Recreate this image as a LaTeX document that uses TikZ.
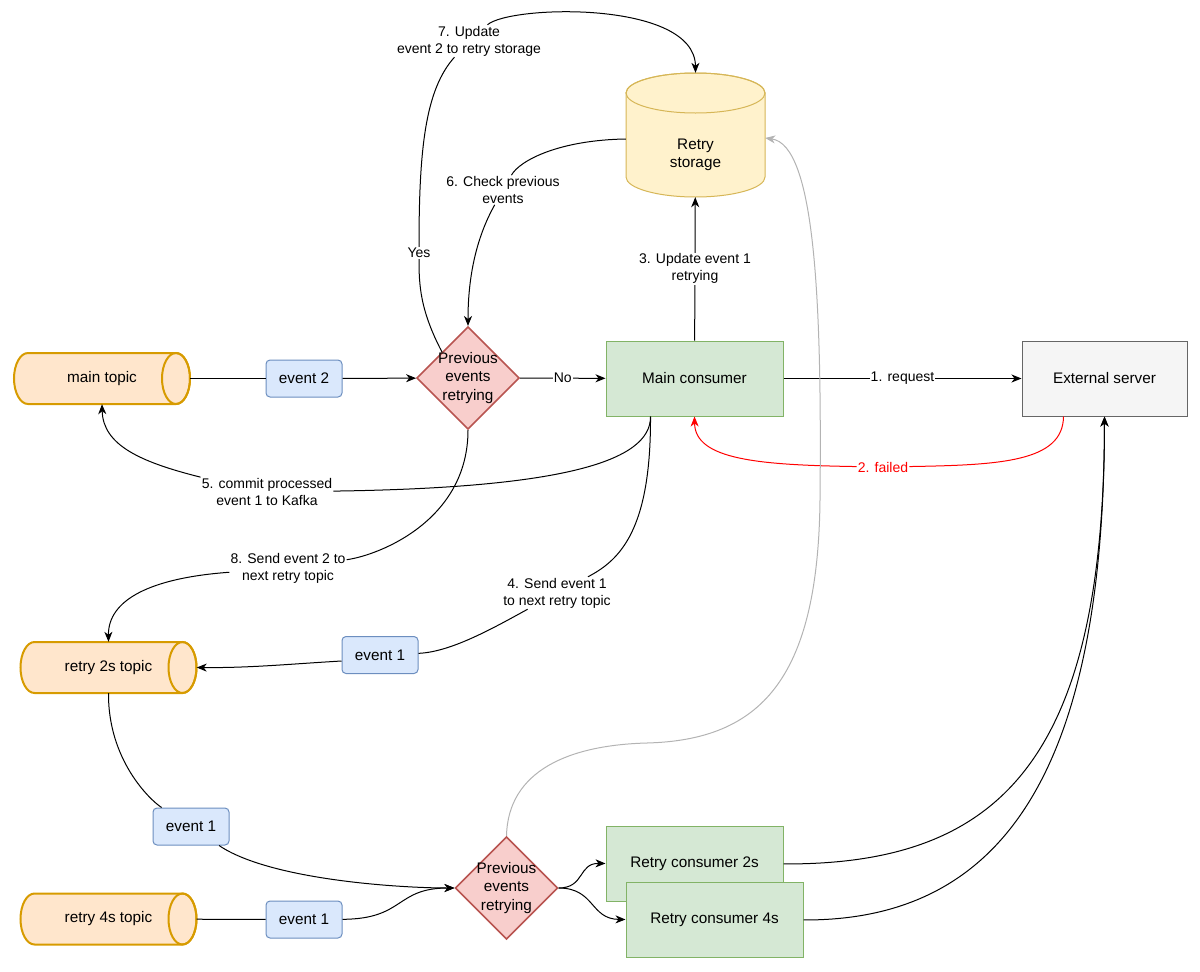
\documentclass[tikz,border=0pt]{standalone}
\usepackage{fontspec}
\setmainfont{Liberation Sans}
\usetikzlibrary{arrows.meta,shapes.geometric}

\definecolor{orfill}{HTML}{FFE6CC}
\definecolor{ordraw}{HTML}{D79B00}
\definecolor{blfill}{HTML}{DAE8FC}
\definecolor{bldraw}{HTML}{6C8EBF}
\definecolor{rdfill}{HTML}{F8CECC}
\definecolor{rddraw}{HTML}{B85450}
\definecolor{grfill}{HTML}{D5E8D4}
\definecolor{grdraw}{HTML}{82B366}
\definecolor{yefill}{HTML}{FFF2CC}
\definecolor{yedraw}{HTML}{D6B656}
\definecolor{gyfill}{HTML}{F5F5F5}
\definecolor{gydraw}{HTML}{666666}
\definecolor{arrgray}{HTML}{B3B3B3}

\begin{document}
\begin{tikzpicture}[x=1pt,y=-1pt,font=\fontsize{14}{17}\selectfont]

		\tikzset{topicpic/.pic = {
			\filldraw[draw=ordraw,fill=orfill,line width=2pt] (-74,-25.5) -- (74,-25.5) arc[start angle=-90,end angle=90,x radius=14,y radius=25.5] -- (-74,25.5) arc[start angle=90,end angle=270,x radius=14,y radius=25.5] -- cycle;
			\draw[draw=ordraw,line width=2pt] (74,0) ellipse[x radius=14,y radius=25.5];
		}}
		\tikzset{storepic/.pic = {
			\filldraw[draw=yedraw,fill=yefill,line width=1pt] (-69.5,-42) -- (-69.5,42) arc[start angle=180,end angle=0,x radius=69.5,y radius=20] -- (69.5,-42) arc[start angle=0,end angle=-180,x radius=69.5,y radius=20] -- cycle;
			\draw[draw=yedraw,line width=1pt] (0,-42) ellipse[x radius=69.5,y radius=20];
		}}
		\tikzset{big/.style = {font=\fontsize{15.3}{18.4}\selectfont}}
		\tikzset{topic/.style = {big,minimum width=176,minimum height=51,inner sep=0pt}}
		\tikzset{msg/.style = {big,draw=bldraw,fill=blfill,line width=1pt,rounded corners=4pt,minimum width=76,minimum height=37}}
		\tikzset{check/.style = {big,shape=diamond,draw=rddraw,fill=rdfill,line width=1.5pt,inner sep=-2pt,minimum width=102,minimum height=100,align=center}}
		\tikzset{cons/.style = {big,draw=grdraw,fill=grfill,line width=1pt,minimum width=177,minimum height=75}}
		\tikzset{server/.style = {big,draw=gydraw,fill=gyfill,line width=1pt,minimum width=165,minimum height=75}}
		\tikzset{lbl/.style = {fill=white,inner sep=1pt,align=center}}
		\tikzset{edge/.style = {->,> = {Stealth[length=10pt,width=8pt,inset=3pt]},line width=1pt}}
		\useasboundingbox (0,0) rectangle (1200,972);
		% vertices
		\pic at (102,378.5) {topicpic};
		\node[topic] (mtopic) at (102,378.5) {main topic};
		\node[msg] (ev2) at (304,378.5) {event 2};
		\node[check] (chka) at (468,378) {Previous\\events\\retrying};
		\node[cons] (mcons) at (694.5,378.5) {Main consumer};
		\node[server] (ext) at (1104.5,378.5) {External server};
		\pic at (695.5,135) {storepic};
		\node[minimum width=139,minimum height=124,inner sep=0pt,label={[big,align=center,yshift=-20pt]center:Retry\\storage}] (store) at (695.5,135) {};
		\pic at (108.5,667.5) {topicpic};
		\node[topic] (rtwo) at (108.5,667.5) {retry 2s topic};
		\node[msg] (ev1a) at (380,655) {event 1};
		\node[msg] (ev1b) at (191,826.5) {event 1};
		\pic at (108.5,919) {topicpic};
		\node[topic] (rfour) at (108.5,919) {retry 4s topic};
		\node[msg] (ev1c) at (304,919.5) {event 1};
		\node[check] (chkb) at (506.5,888) {Previous\\events\\retrying};
		\node[cons] (rc2) at (694.5,863.5) {Retry consumer 2s};
		\node[cons] (rc4) at (714.5,919.5) {Retry consumer 4s};
		% labels
		\node[lbl,text=red] (l2) at (883,467) {2. failed};
		\node[lbl] (l4) at (557,593) {4. Send event 1\\to next retry topic};
		\node[lbl] (l5) at (267,492) {5. commit processed\\event 1 to Kafka};
		\node[lbl] (l6) at (503,190) {6. Check previous\\events};
		\node[lbl] (l7) at (469,41) {7. Update\\event 2 to retry storage};
		\node[lbl] (lyes) at (419,253) {Yes};
		\node[lbl] (l8) at (288,568) {8. Send event 2 to\\next retry topic};
		%edges
		\draw[line width=1pt] (mtopic) -- (ev2);
		\draw[edge] (ev2) -- (chka);
		\draw[edge] (chka) -- node[lbl] {No} (mcons);
		\draw[edge] (mcons) -- node[lbl] {1. request} (ext);
		\draw[edge] (mcons) -- node[lbl] {3. Update event 1\\retrying} (store);
		\draw[line width=1pt,red] ([xshift=-41]ext.south) .. controls (1063,462) and (1000,465) .. (l2);
		\draw[edge,red] (l2) .. controls (760,465) and (695,460) .. (mcons.south);
		\draw[line width=1pt] ([xshift=-44]mcons.south) .. controls (651,530) and (620,560) .. (l4);
		\draw[line width=1pt] (l4) .. controls (490,630) and (450,652) .. (ev1a);
		\draw[edge] ([yshift=-6pt]ev1a.west) .. controls (290,664) and (250,668) .. (rtwo.east);
		\draw[line width=1pt] ([xshift=-44]mcons.south) .. controls (651,462) and (560,488) .. (l5);
		\draw[edge] (l5.north west) .. controls (140,462) and (103,445) .. (mtopic.south);
		\draw[line width=1pt] ([yshift=-4pt]store.west) .. controls (560,140) and (520,160) .. (l6);
		\draw[edge] (l6) .. controls (475,240) and (468,280) .. (chka.north);
		\draw[line width=1pt] (chka.north west) .. controls (420,310) and (419,285) .. (lyes);
		\draw[line width=1pt] (lyes) .. controls (419,150) and (425,90) .. (l7);
		\draw[edge] (l7) .. controls (510,5) and (695,0) .. (store.north);
		\draw[line width=1pt] (chka.south) .. controls (468,520) and (380,555) .. (l8);
		\draw[edge] (l8) .. controls (150,578) and (108,600) .. (rtwo.north);
		\draw[line width=1pt] (rtwo.south) .. controls (108,760) and (150,800) .. (ev1b);
		\draw[edge] (ev1b) .. controls (270,880) and (400,888) .. (chkb.west);
		\draw[line width=1pt] (rfour) -- (ev1c);
		\draw[edge] (ev1c) .. controls (405,919) and (395,888) .. (chkb.west);
		\draw[edge] (chkb.east) .. controls (585,888) and (578,863) .. (rc2.west);
		\draw[edge] (chkb.east) .. controls (595,888) and (590,919) .. (rc4.west);
		\draw[edge] (rc2) .. controls (1000,865) and (1104,760) .. (ext.south);
		\draw[edge] (rc4) .. controls (1010,921) and (1104,760) .. (ext.south);
		\draw[edge,arrgray] (chkb.north) .. controls (508,770) and (570,745) .. (647,743) .. controls (760,740) and (818,680) .. (820,500) .. controls (822,300) and (815,145) .. ([yshift=-3pt]store.east);
\end{tikzpicture}
\end{document}
